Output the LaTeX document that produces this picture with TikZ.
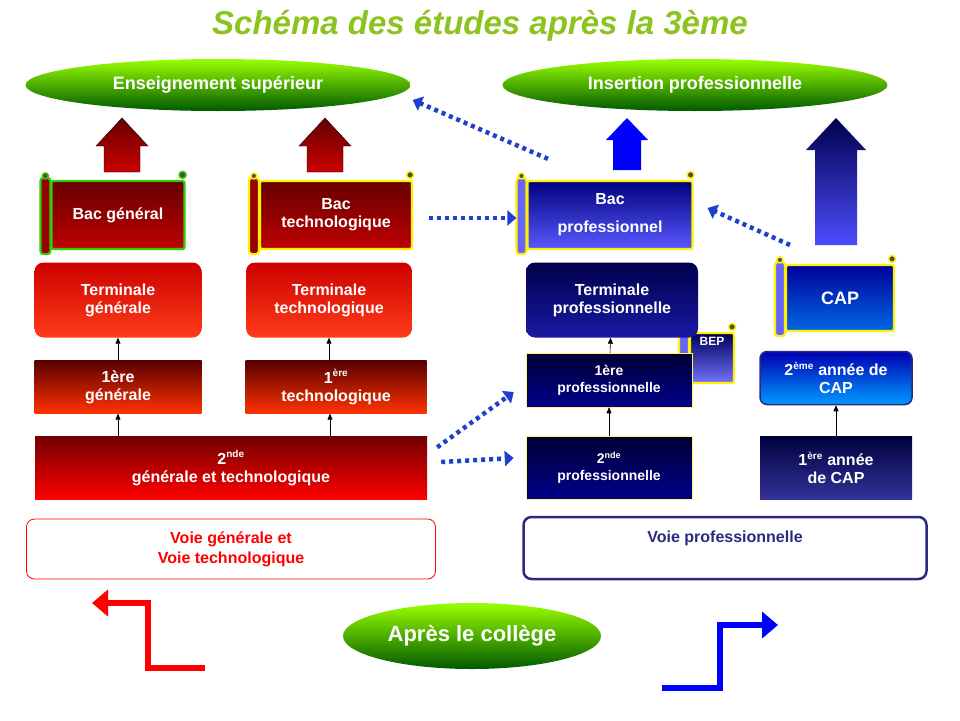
\documentclass[tikz,border=0pt]{standalone}
\usepackage{fontspec}
\setmainfont{Liberation Sans}
\usetikzlibrary{shapes.geometric,arrows.meta}
\definecolor{navy}{HTML}{2A2A80}
\definecolor{dotblue}{HTML}{1F3FD0}
\definecolor{tgreen}{HTML}{8CC31E}
\newcommand\fatarrow[7]{% x, ytop, ybottom, headwidth, bodywidth, headlength, style
  \path[#7] ({#1-#4/2},{#2+#6}) -- (#1,#2) -- ({#1+#4/2},{#2+#6}) -- ({#1+#5/2},{#2+#6}) -- ({#1+#5/2},#3) -- ({#1-#5/2},#3) -- ({#1-#5/2},{#2+#6}) -- cycle;}
\begin{document}
\begin{tikzpicture}[x=1pt,y=-1pt,
  lbl/.style={font=\bfseries\fontsize{16}{18}\selectfont, text=white, align=center, inner sep=0},
  ell/.style={ellipse, draw=none, top color=#1, bottom color=green!35!black, lbl, font=\bfseries\fontsize{18}{20}\selectfont},
  sq/.style={draw=none, lbl},
  rbox/.style={rounded corners=9pt, lbl},
  scroll/.style={draw=#1, line width=2.2pt, rounded corners=2pt, lbl},
  dots/.style={draw=dotblue, line width=4.5pt, dash pattern=on 4pt off 4pt, -{Triangle[length=9pt,width=15pt]}},
  thin/.style={-{Triangle[length=6pt,width=5pt]}, line width=0.6pt, black}]
\useasboundingbox (0,0) rectangle (960,720);
\fill[white] (0,0) rectangle (960,720);
\node[font=\bfseries\itshape\fontsize{33}{36}\selectfont, text=tgreen] (title) at (480,26) {Schéma des études après la 3ème};
% ellipses
\node[ell={yellow!60!green}, minimum width=385, minimum height=52] (sup) at (218,85) {Enseignement supérieur};
\node[ell={yellow!60!green}, minimum width=385, minimum height=52] (ins) at (695,85) {Insertion professionnelle};
\node[ell={yellow!60!green}, minimum width=258, minimum height=66, font=\bfseries\fontsize{22}{24}\selectfont] (apres) at (472,636) {Après le collège};
% scrolls
\node[scroll={green!60!olive}, top color=red!40!black, bottom color=red!75!black, minimum width=133, minimum height=68] (bacg) at (118,215) {Bac général};
\node[scroll=yellow, top color=red!40!black, bottom color=red!75!black, minimum width=152, minimum height=68] (bact) at (336,215) {Bac\\technologique};
\node[scroll=yellow, top color=blue!50!black, bottom color=blue!65, minimum width=165, minimum height=68] (bacp) at (610,215) {Bac\\[10pt]professionnel};
\node[scroll=yellow, top color=blue!60!black, bottom color=blue!55!cyan!90!black, minimum width=108, minimum height=66, font=\bfseries\fontsize{18}{20}\selectfont] (cap) at (840,298) {CAP};
\node[scroll=yellow, top color=blue!35!black, bottom color=blue!55!white, minimum width=44, minimum height=50, font=\bfseries\fontsize{12}{14}\selectfont] (bep) at (712,358) {BEP\\[20pt]};
\foreach \n/\c/\f in {bacg/green!60!olive/red!60!black, bact/yellow/red!60!black, bacp/yellow/blue!60, cap/yellow/blue!60, bep/yellow/blue!60}{
  \draw[draw=\c, line width=2.2pt, fill=\f, rounded corners=3pt] ([xshift=-10pt,yshift=2pt]\n.north west) rectangle ([yshift=-4pt]\n.south west);
  \draw[\c, line width=1.5pt, fill=black!70] ([xshift=-5pt,yshift=4pt]\n.north west) circle (3pt);
  \draw[\c, line width=1.5pt, fill=black!70] ([xshift=-3pt,yshift=5pt]\n.north east) circle (3.5pt);
}
% terminales
\node[rbox, top color=red!80!black, bottom color=red!70!orange!90, minimum width=167, minimum height=75] (tg) at (118,300) {Terminale\\générale};
\node[rbox, top color=red!80!black, bottom color=red!70!orange!90, minimum width=166, minimum height=75] (tt) at (329,300) {Terminale\\technologique};
\node[rbox, top color=blue!30!black, bottom color=blue!60!black!90, minimum width=172, minimum height=75] (tp) at (612,300) {Terminale\\professionnelle};
% premieres
\node[sq, top color=red!35!black, bottom color=orange!40!red, minimum width=167, minimum height=53] (pg) at (118,387) {1ère\\générale};
\node[sq, top color=red!35!black, bottom color=orange!40!red, minimum width=181, minimum height=53] (pt) at (336,387) {1\textsuperscript{\fontsize{10}{10}\selectfont ère}\\technologique};
\node[draw=yellow!60, line width=0.5pt, lbl, top color=blue!20!black, bottom color=blue!55!black, minimum width=166, minimum height=54, font=\bfseries\fontsize{14}{17}\selectfont] (pp) at (609,380) {1ère\\professionnelle};
\node[rbox, draw=navy, line width=1.5pt, rounded corners=7pt, top color=blue!70!black, bottom color=cyan!60!blue, minimum width=152, minimum height=53] (c2) at (836,378) {2\textsuperscript{\fontsize{10}{10}\selectfont ème} année de\\CAP};
% secondes
\node[sq, top color=red!45!black, bottom color=red, minimum width=392, minimum height=63] (sg) at (231,468) {2\textsuperscript{\fontsize{10}{10}\selectfont nde}\\générale et technologique};
\node[draw=yellow!60, line width=0.5pt, lbl, top color=blue!20!black, bottom color=blue!55!black, minimum width=166, minimum height=63, font=\bfseries\fontsize{14}{17}\selectfont] (sp) at (609,468) {2\textsuperscript{\fontsize{9}{9}\selectfont nde}\\professionnelle};
\node[sq, top color=blue!25!black, bottom color=blue!50!black!80, minimum width=152, minimum height=63] (c1) at (836,468) {1\textsuperscript{\fontsize{10}{10}\selectfont ère} année\\de CAP};
% voies
\node[draw=red, rounded corners=8pt, line width=0.8pt, minimum width=409, minimum height=60, font=\bfseries\fontsize{16}{20}\selectfont, text=red, align=center, inner sep=0] (vg) at (231,549) {Voie générale et\\Voie technologique};
\node[draw=navy, rounded corners=8pt, line width=2.5pt, minimum width=403, minimum height=62, font=\bfseries\fontsize{16}{20}\selectfont, text=navy, inner sep=0, text depth=22pt] (vp) at (725,548) {Voie professionnelle};
% fat arrows
\fatarrow{122}{118}{172}{52}{36}{28}{draw=black, line width=0.4pt, top color=red!40!black, bottom color=red!80!black}
\fatarrow{325}{118}{172}{52}{36}{28}{draw=black, line width=0.4pt, top color=red!40!black, bottom color=red!80!black}
\fatarrow{627}{118}{170}{42}{28}{22}{fill=blue}
\fatarrow{836}{118}{245}{60}{42}{32}{top color=blue!30!black, bottom color=blue!70}
% small arrows
\draw[thin] (pg) -- (tg);
\draw[thin] (sg.north -| pg) -- (pg);
\draw[thin] (pt.north -| tt) -- (tt);
\draw[thin] (sg.north -| pt.south) ++(-6,0) coordinate (q) -- (q |- pt.south);
\draw[thin] (pp) -- (tp);
\draw[thin] (sp) -- (pp);
\draw[thin] (c1) -- (c2);
% dotted arrows
\coordinate (d1) at ([xshift=-62pt,yshift=21pt]bacp.north);
\draw[dots] (d1) -- ([xshift=2pt,yshift=-15pt]sup.east);
\draw[dots] (bact.east) ++(16,3) coordinate (d2) -- ([xshift=-10pt]bacp.west |- d2);
\coordinate (d3) at (790,245);
\draw[dots] (d3) -- ([xshift=14pt,yshift=7pt]bacp.east);
\draw[dots] ([xshift=10pt,yshift=-11pt]sg.north east) -- ([xshift=-12pt,yshift=-12pt]pp.west);
\draw[dots] ([xshift=14pt,yshift=6pt]sg.east) -- ([xshift=-12pt,yshift=10pt]sp.west);
% step arrows
\coordinate (r0) at (205,668);
\draw[red, line width=6pt, -{Triangle[length=16pt,width=26pt]}] (r0) -- (148,668) -- (148,603) -- (92,603);
\coordinate (b0) at (662,688);
\draw[blue, line width=6pt, -{Triangle[length=16pt,width=26pt]}] (b0) -- (720,688) -- (720,625) -- (778,625);
\end{tikzpicture}
\end{document}
